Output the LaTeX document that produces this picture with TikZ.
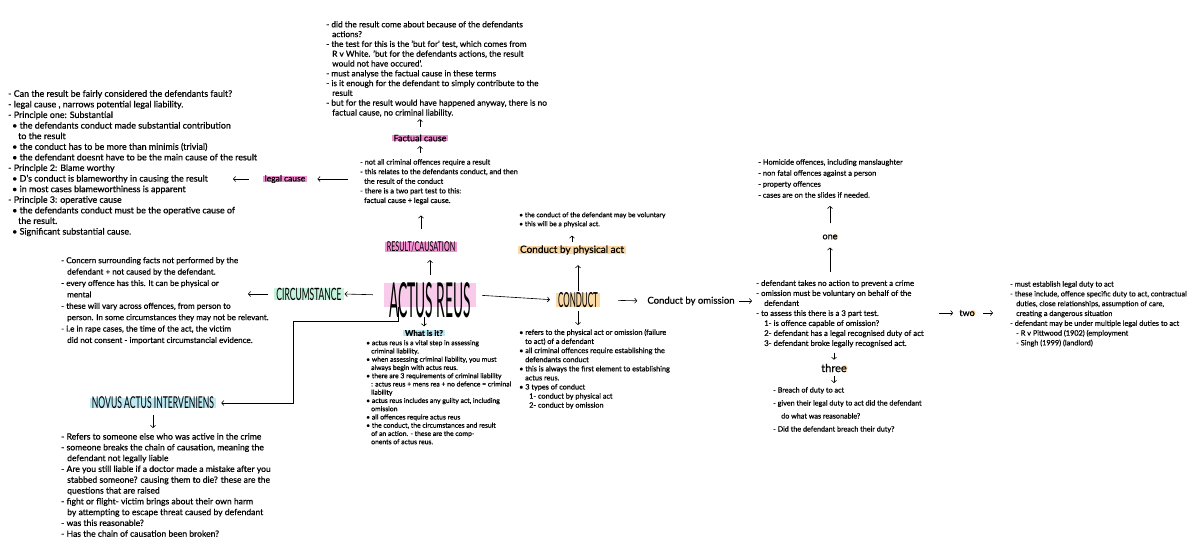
\documentclass[tikz,border=0pt]{standalone}
\usepackage{fontspec}
\usepackage{graphicx}
\setmainfont{Lato}[FakeBold=0.6]
\newfontfamily\thinfont{Lato}
\usetikzlibrary{arrows.meta}

\definecolor{actuspink}{HTML}{F9CBEA}
\definecolor{hotpink}{HTML}{F592D4}
\definecolor{mint}{HTML}{C4F2DC}
\definecolor{skyhl}{HTML}{BDE9F3}
\definecolor{peach}{HTML}{FAD9A6}

\newcommand{\fsz}[2]{\fontsize{#1}{#2}\selectfont}
\newcommand{\tallcaps}[2]{\thinfont\scalebox{1}[#1]{#2}}

\tikzset{
  notes/.style={anchor=north west, align=left, inner sep=0pt},
  arr/.style={-{Straight Barb[length=2.2pt,width=5pt]}, line width=0.6pt},
  hl/.style={fill=#1, inner xsep=2pt, inner ysep=-0.5pt},
  dot/.style={path picture={\fill[peach] ([xshift=-3pt]path picture bounding box.east) circle (3pt);}},
}

\begin{document}
\begin{tikzpicture}[x=1pt, y=-1pt]
\useasboundingbox[fill=white] (0,0) rectangle (1200,559);

% centre
\node[fill=actuspink, inner xsep=5pt, inner ysep=0pt] (actus) at (430,295)
  {\raisebox{-10pt}[24pt][0pt]{\fsz{13.8}{13.8}\tallcaps{3.5}{ACTUS REUS}}};

% result / causation branch
\node[hl=hotpink] (result) at (421,247) {\fsz{7.2}{7.2}\tallcaps{1.9}{RESULT/CAUSATION}};
\node[notes, font=\fsz{7.3}{9.6}] (resnotes) at (360,159) {%
- not all criminal offences require a result\\
- this relates to the defendants conduct, and then\\
\hspace*{4pt}the result of the conduct\\
- there is a two part test to this:\\
\hspace*{4pt}factual cause + legal cause.};
\node[hl=hotpink] (factual) at (420,138) {\fsz{9}{9}Factual cause};
\node[notes, font=\fsz{8.3}{9.8}] (factnotes) at (326,21) {%
- did the result come about because of the defendants\\
\hspace*{6pt}actions?\\
- the test for this is the 'but for' test, which comes from\\
\hspace*{6pt}R v White. 'but for the defendants actions, the result\\
\hspace*{6pt}would not have occured'.\\
- must analyse the factual cause in these terms\\
- is it enough for the defendant to simply contribute to the\\
\hspace*{6pt}result\\
- but for the result would have happened anyway, there is no\\
\hspace*{6pt}factual cause, no criminal liability.};
\node[hl=hotpink] (legal) at (285,179) {\fsz{8.5}{8.5}legal cause};
\node[notes, font=\fsz{8.9}{10.6}] (legalnotes) at (8,90) {%
- Can the result be fairly considered the defendants fault?\\
- legal cause , narrows potential legal liability.\\
- Principle one: Substantial\\
\hspace*{4pt}• the defendants conduct made substantial contribution\\
\hspace*{10pt}to the result\\
\hspace*{4pt}• the conduct has to be more than minimis (trivial)\\
\hspace*{4pt}• the defendant doesnt have to be the main cause of the result\\
- Principle 2: Blame worthy\\
\hspace*{4pt}• D's conduct is blameworthy in causing the result\\
\hspace*{4pt}• in most cases blameworthiness is apparent\\
- Principle 3: operative cause\\
\hspace*{4pt}• the defendants conduct must be the operative cause of\\
\hspace*{10pt}the result.\\
\hspace*{4pt}• Significant substantial cause.};

% circumstance branch
\node[hl=mint] (circ) at (309,294) {\fsz{8.5}{8.5}\tallcaps{2}{CIRCUMSTANCE}};
\node[notes, font=\fsz{8.1}{11.4}] (circnotes) at (61,257) {%
- Concern surrounding facts not performed by the\\
\hspace*{6pt}defendant + not caused by the defendant.\\
- every offence has this. It can be physical or\\
\hspace*{6pt}mental\\
- these will vary across offences, from person to\\
\hspace*{6pt}person. In some circumstances they may not be relevant.\\
- i.e in rape cases, the time of the act, the victim\\
\hspace*{6pt}did not consent - important circumstancial evidence.};

% novus actus branch
\node[hl=skyhl] (novus) at (153,403) {\fsz{8.6}{8.6}\tallcaps{1.9}{NOVUS ACTUS INTERVENIENS}};
\node[notes, font=\fsz{8.6}{10.8}] (novnotes) at (61,433) {%
- Refers to someone else who was active in the crime\\
- someone breaks the chain of causation, meaning the\\
\hspace*{6pt}defendant not legally liable\\
- Are you still liable if a doctor made a mistake after you\\
\hspace*{6pt}stabbed someone? causing them to die? these are the\\
\hspace*{6pt}questions that are raised\\
- fight or flight- victim brings about their own harm\\
\hspace*{6pt}by attempting to escape threat caused by defendant\\
- was this reasonable?\\
- Has the chain of causation been broken?};

% what is it
\node[hl=skyhl] (whatis) at (424,333) {\fsz{8}{8}\bfseries What is it?};
\node[notes, font=\fsz{6.8}{8.25}] (whatnotes) at (366,340) {%
• actus reus is a vital step in assessing\\
\hspace*{5pt}criminal liability.\\
• when assessing criminal liability, you must\\
\hspace*{5pt}always begin with actus reus.\\
• there are 3 requirements of criminal liability\\
\hspace*{5pt}: actus reus + mens rea + no defence = criminal\\
\hspace*{5pt}liability\\
• actus reus includes any guilty act, including\\
\hspace*{5pt}omission\\
• all offences require actus reus\\
• the conduct, the circumstances and result\\
\hspace*{5pt}of an action. - these are the comp-\\
\hspace*{5pt}onents of actus reus.};

% conduct branch
\node[hl=peach] (conduct) at (578,300) {\fsz{8}{8}\tallcaps{2.6}{CONDUCT}};
\node[hl=peach] (phys) at (572,250) {\fsz{10}{10}Conduct by physical act};
\node[notes, font=\fsz{6.8}{9}] (physnotes) at (519,212) {%
• the conduct of the defendant may be voluntary\\
• this will be a physical act.};
\node[notes, font=\fsz{7.3}{9.1}] (condnotes) at (519,329) {%
• refers to the physical act or omission (failure\\
\hspace*{6pt}to act) of a defendant\\
• all criminal offences require establishing the\\
\hspace*{6pt}defendants conduct\\
• this is always the first element to establishing\\
\hspace*{6pt}actus reus.\\
• 3 types of conduct\\
\hspace*{10pt}1- conduct by physical act\\
\hspace*{10pt}2- conduct by omission};
\node[inner sep=1pt] (omit) at (691,301) {\fsz{9.5}{9.5}Conduct by omission};
\node[notes, font=\fsz{7.8}{10}] (omitnotes) at (756,280) {%
- defendant takes no action to prevent a crime\\
- omission must be voluntary on behalf of the\\
\hspace*{8pt}defendant\\
- to assess this there is a 3 part test.\\
\hspace*{8pt}1- is offence capable of omission?\\
\hspace*{8pt}2- defendant has a legal recognised duty of act\\
\hspace*{8pt}3- defendant broke legally recognised act.};
\node[dot, inner sep=1pt] (one) at (830,237) {\fsz{9}{9}one};
\node[notes, font=\fsz{7.45}{11}] (onenotes) at (758,159) {%
- Homicide offences, including manslaughter\\
- non fatal offences against a person\\
- property offences\\
- cases are on the slides if needed.};
\node[dot, inner sep=1pt] (two) at (967,313) {\fsz{9}{9}two};
\node[notes, font=\fsz{7.3}{9.8}] (twonotes) at (1010,281) {%
- must establish legal duty to act\\
- these include, offence specific duty to act, contractual\\
\hspace*{6pt}duties, close relationships, assumption of care,\\
\hspace*{6pt}creating a dangerous situation\\
- defendant may be under multiple legal duties to act\\
\hspace*{6pt}- R v Pittwood (1902) (employment\\
\hspace*{6pt}- Singh (1999) (landlord)};
\node[dot, inner sep=1pt] (three) at (834,368) {\fsz{11}{11}three};
\node[notes, font=\fsz{7.2}{13}] (threenotes) at (773,387) {%
- Breach of duty to act\\
- given their legal duty to act did the defendant\\
\hspace*{8pt}do what was reasonable?\\
- Did the defendant breach their duty?};

% connectors
\draw[arr, shorten <=8pt, shorten >=8pt] (actus.north) -- (actus.north |- result.south);
\draw[arr, shorten <=13pt, shorten >=11pt] (result.north) -- (result.north |- resnotes.south);
\draw[arr, shorten <=6pt, shorten >=5pt] (factual.south |- resnotes.north) -- (factual.south);
\draw[arr, shorten <=8pt, shorten >=2pt] (factual.north) -- (factual.north |- factnotes.south);
\draw[arr, shorten <=12pt, shorten >=10pt] (legal -| resnotes.west) -- (legal.east);
\draw[arr, shorten <=14pt, shorten >=225pt] (legal.west) -- (legal.west -| legalnotes.west);
\draw[arr, shorten <=11pt, shorten >=1pt] (actus.west) -- (circ.east);
\draw[arr, shorten <=6pt, shorten >=187pt] (circ.west) -- (circ.west -| circnotes.west);
\draw[arr] ([xshift=14pt]actus.south west) -- ++(0,14) -| ([xshift=77pt]novus.east) -- ([xshift=5pt]novus.east);
\draw[arr, shorten <=6pt, shorten >=5pt] (novus.south) -- (novus.south |- novnotes.north);
\draw[arr, shorten <=10pt, shorten >=4pt] (actus.south -| whatis) -- (whatis.north);
\draw[arr, shorten <=6pt, shorten >=6pt] (actus.east) -- (conduct.west);
\draw[arr, shorten <=2pt, shorten >=11pt] (conduct.north) -- (conduct.north |- phys.south);
\draw[arr, shorten <=4pt, shorten >=8pt] (phys.north) -- (phys.north |- physnotes.south);
\draw[arr, shorten <=4pt, shorten >=4pt] (conduct.south) -- (conduct.south |- condnotes.north);
\draw[arr, shorten <=18pt, shorten >=9pt] (conduct.east) -- (omit.west);
\draw[arr, shorten <=3pt, shorten >=4pt] (omit.east) -- (omit.east -| omitnotes.west);
\draw[arr, shorten <=8pt, shorten >=7pt] (one.south |- omitnotes.north) -- (one.south);
\draw[arr, shorten <=10pt, shorten >=8pt] (one.north) -- (one.north |- onenotes.south);
\draw[arr, shorten <=15pt, shorten >=5pt] (two.west -| omitnotes.east) -- (two.west);
\draw[arr, shorten <=7pt, shorten >=17pt] (two.east) -- (two.east -| twonotes.west);
\draw[arr, shorten <=5pt, shorten >=3pt] (three.north |- omitnotes.south) -- (three.north);
\draw[arr, shorten <=3pt, shorten >=4pt] (three.south) -- (three.south |- threenotes.north);
\end{tikzpicture}
\end{document}
